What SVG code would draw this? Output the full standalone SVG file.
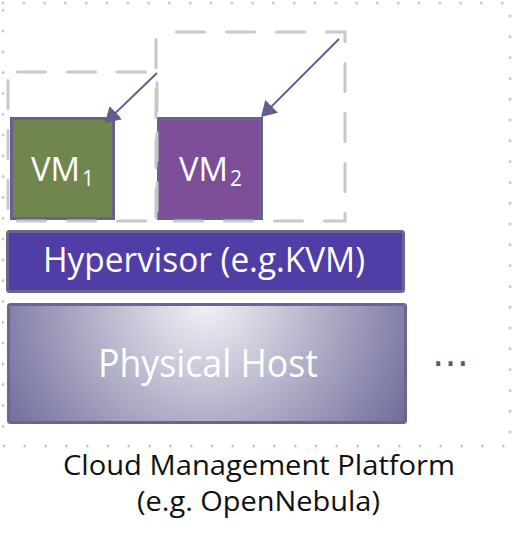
<svg xmlns="http://www.w3.org/2000/svg" width="513" height="544" viewBox="0 0 513 544">
<style>
  .t { font-family: "Open Sans", "Noto Sans", "Liberation Sans", sans-serif; }
  .w { fill: #ffffff; }
  .dash { fill: none; stroke: #c8c8c8; stroke-width: 3; stroke-linecap: round; stroke-dasharray: 28 22; }
  .vm { stroke: #66628f; stroke-width: 3; }
  .conn { stroke: #625d8e; stroke-width: 2; fill: none; marker-end: url(#ah); }
</style>
<defs>
  <marker id="ah" viewBox="0 0 15 18" refX="5" refY="9" markerWidth="15" markerHeight="18" markerUnits="userSpaceOnUse" orient="auto">
    <path d="M0,0 L15,9 L0,18 z" fill="#625d8e"/>
  </marker>
  <radialGradient id="hostGrad" gradientUnits="userSpaceOnUse" cx="205" cy="302" r="240">
    <stop offset="0" stop-color="#f2f2f6"/>
    <stop offset="1" stop-color="#6c6898"/>
  </radialGradient>
</defs>
<rect width="513" height="544" fill="#ffffff"/>
<g id="platform">
  <rect x="3" y="3" width="507" height="443" fill="none" stroke="#cacaca" stroke-width="3" stroke-linecap="round" stroke-dasharray="0 20.8"/>
  <text class="t" x="259" y="475" font-size="27" text-anchor="middle" fill="#111111" textLength="392" lengthAdjust="spacingAndGlyphs">Cloud Management Platform</text>
  <text class="t" x="258.5" y="511" font-size="27" text-anchor="middle" fill="#111111" textLength="243" lengthAdjust="spacingAndGlyphs">(e.g. OpenNebula)</text>
</g>
<g id="host">
  <rect x="8.5" y="304.5" width="397" height="118" rx="2" fill="url(#hostGrad)" stroke="#6a6594" stroke-width="3"/>
  <text class="t w" x="208" y="377" font-size="38" text-anchor="middle" textLength="220" lengthAdjust="spacingAndGlyphs">Physical Host</text>
</g>
<g id="more">
  <text x="432" y="366" font-family="DejaVu Sans, sans-serif" font-size="37" fill="#5b5687">…</text>
</g>
<g id="hypervisor">
  <rect x="7.5" y="231.5" width="396" height="60" rx="2" fill="#503da6" stroke="#6b668e" stroke-width="3"/>
  <text class="t w" x="204" y="272" font-size="35" text-anchor="middle" textLength="322" lengthAdjust="spacingAndGlyphs">Hypervisor (e.g.KVM)</text>
</g>
<g id="vm1">
  <rect class="vm" x="11.5" y="118.5" width="102" height="100" fill="#71864f"/>
  <text class="t w" x="31" y="181" font-size="33" textLength="49" lengthAdjust="spacingAndGlyphs">VM</text>
  <text class="t w" x="82" y="186" font-size="21">1</text>
</g>
<g id="vm2">
  <rect class="vm" x="158.5" y="118.5" width="103" height="100" fill="#7d4e98"/>
  <text class="t w" x="179" y="181" font-size="33" textLength="49" lengthAdjust="spacingAndGlyphs">VM</text>
  <text class="t w" x="230" y="186" font-size="21">2</text>
</g>
<g id="slots">
  <rect class="dash" x="8" y="72" width="149" height="149" stroke-dashoffset="40.5"/>
  <rect class="dash" x="156" y="32" width="189" height="189" stroke-dashoffset="29.5"/>
</g>
<g id="connectors">
  <line class="conn" x1="157" y1="73" x2="112.2" y2="116.1"/>
  <line class="conn" x1="339" y1="39" x2="268.1" y2="109.9"/>
</g>
</svg>
